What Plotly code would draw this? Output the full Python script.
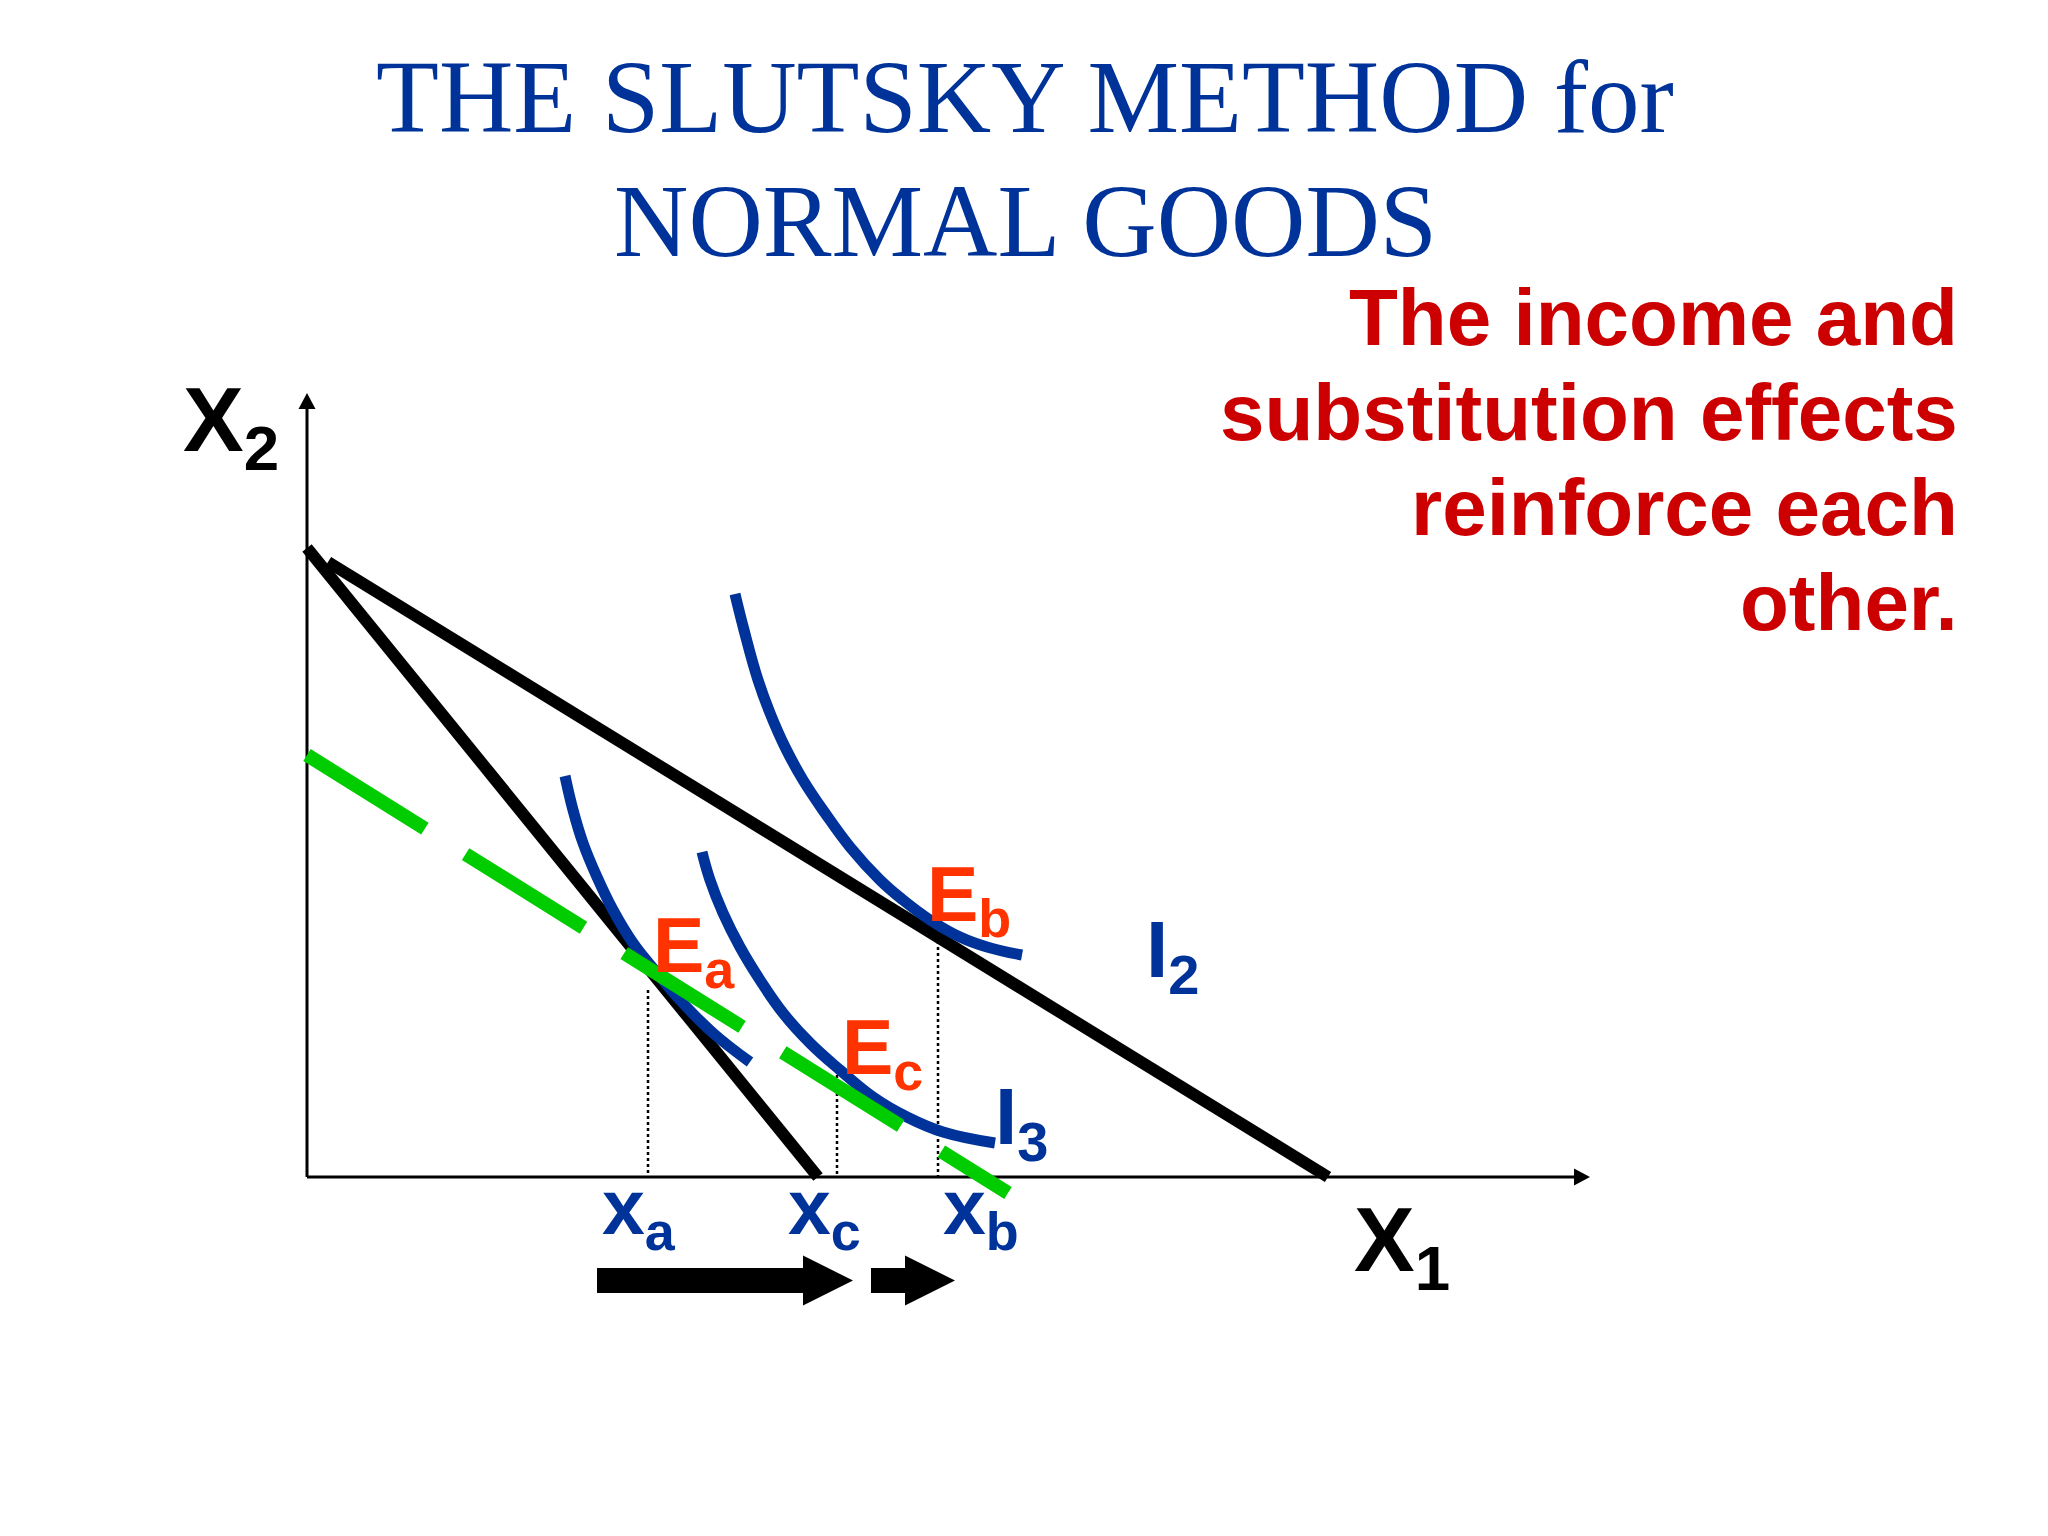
#%%
import numpy as np
import plotly.graph_objects as go

#%%
# diagram data, quantities of X1 (horizontal) and X2 (vertical)
x_axis_end = 12.83
y_axis_end = 7.84

# original budget line (high price of X1) and new budget line after price fall
budget_old_x = [0.0, 5.11]
budget_old_y = [6.29, 0.0]
budget_new_x = [0.21, 10.21]
budget_new_y = [6.15, 0.0]

# compensated (Slutsky) budget line, parallel to the new one
budget_comp_x = [0.0, 7.01]
budget_comp_y = [4.22, -0.16]

# indifference curves
i1_x = [2.58, 2.66, 2.76, 2.90, 3.06, 3.26, 3.50, 3.73, 4.06, 4.43]
i1_y = [4.01, 3.67, 3.34, 3.00, 2.67, 2.34, 2.04, 1.77, 1.44, 1.15]
i3_x = [3.95, 4.03, 4.16, 4.33, 4.53, 4.76, 5.03, 5.33, 5.66, 6.00, 6.36, 6.88]
i3_y = [3.25, 2.97, 2.64, 2.30, 1.97, 1.64, 1.34, 1.07, 0.80, 0.60, 0.45, 0.34]
i2_x = [4.28, 4.37, 4.51, 4.63, 4.78, 4.96, 5.18, 5.43, 5.73, 5.96, 6.23, 6.53, 6.80, 7.15]
i2_y = [5.83, 5.47, 4.97, 4.64, 4.30, 3.97, 3.64, 3.30, 2.97, 2.77, 2.57, 2.40, 2.30, 2.22]

# equilibria a, c, b
eq_names = ['a', 'c', 'b']
eq_x = [3.41, 5.30, 6.31]
eq_y = [1.87, 1.02, 2.54]

# substitution effect (xa -> xc) and income effect (xc -> xb) arrows
effect_arrow_start = [2.90, 5.64]
effect_arrow_end = [5.46, 6.48]
effect_arrow_level = -1.035

title_lines = ['THE SLUTSKY METHOD for', 'NORMAL GOODS']
note_lines = ['The income and', 'substitution effects', 'reinforce each', 'other.']

#%%
BLUE = '#003399'
RED = '#CC0000'
ORANGE = '#FF3300'
GREEN = '#00CC00'
SANS = 'Liberation Sans, Arial, sans-serif'
SERIF = 'Liberation Serif, Times New Roman, serif'


def arrow_outline(x0, y0, x1, y1, shaft_w, head_w, head_len):
    # filled arrow polygon from (x0, y0) to the tip (x1, y1)
    dx, dy = x1 - x0, y1 - y0
    length = np.hypot(dx, dy)
    ux, uy = dx / length, dy / length
    nx, ny = -uy, ux
    bx, by = x1 - ux * head_len, y1 - uy * head_len
    pts = [
        (x0 + nx * shaft_w / 2, y0 + ny * shaft_w / 2),
        (bx + nx * shaft_w / 2, by + ny * shaft_w / 2),
        (bx + nx * head_w / 2, by + ny * head_w / 2),
        (x1, y1),
        (bx - nx * head_w / 2, by - ny * head_w / 2),
        (bx - nx * shaft_w / 2, by - ny * shaft_w / 2),
        (x0 - nx * shaft_w / 2, y0 - ny * shaft_w / 2),
        (x0 + nx * shaft_w / 2, y0 + ny * shaft_w / 2),
    ]
    return [p[0] for p in pts], [p[1] for p in pts]


fig = go.Figure()

# axes
for x0, y0, x1, y1 in [(0, 0, x_axis_end, 0), (0, 0, 0, y_axis_end)]:
    ax_x, ax_y = arrow_outline(x0, y0, x1, y1, 0.03, 0.17, 0.16)
    fig.add_trace(go.Scatter(x=ax_x, y=ax_y, fill='toself', fillcolor='black', mode='lines', line=dict(width=0), hoverinfo='skip'))

# dotted drop lines from the equilibria
for x, y in zip(eq_x, eq_y):
    fig.add_trace(go.Scatter(x=[x, x], y=[y, 0], mode='lines', line=dict(color='black', width=2.5, dash='dot'), hoverinfo='skip'))

# budget lines
fig.add_trace(go.Scatter(x=budget_old_x, y=budget_old_y, mode='lines', line=dict(color='black', width=12)))
fig.add_trace(go.Scatter(x=budget_new_x, y=budget_new_y, mode='lines', line=dict(color='black', width=12)))

# indifference curves
for cx, cy in [(i1_x, i1_y), (i3_x, i3_y), (i2_x, i2_y)]:
    fig.add_trace(go.Scatter(x=cx, y=cy, mode='lines', line=dict(color=BLUE, width=11, shape='spline', smoothing=1.2)))

# compensated budget line
fig.add_trace(go.Scatter(x=budget_comp_x, y=budget_comp_y, mode='lines', line=dict(color=GREEN, width=14, dash='139px,48px')))

# effect arrows under the axis
for x0, x1 in zip(effect_arrow_start, effect_arrow_end):
    ar_x, ar_y = arrow_outline(x0, effect_arrow_level, x1, effect_arrow_level, 0.25, 0.50, 0.50)
    fig.add_trace(go.Scatter(x=ar_x, y=ar_y, fill='toself', fillcolor='black', mode='lines', line=dict(width=0), hoverinfo='skip'))

#%%
# text
e_label_pos = {'a': (3.44, 2.27), 'c': (5.33, 1.25), 'b': (6.18, 2.78)}
x_label_pos = {'a': 2.93, 'c': 4.79, 'b': 6.34}
for name in eq_names:
    ex, ey = e_label_pos[name]
    fig.add_annotation(x=ex, y=ey, text=f'E<sub>{name}</sub>', showarrow=False, xanchor='left', yanchor='middle',
                       font=dict(family=SANS, size=77, color=ORANGE, weight='bold'))
    fig.add_annotation(x=x_label_pos[name], y=-0.35, text=f'x<sub>{name}</sub>', showarrow=False, xanchor='left', yanchor='middle',
                       font=dict(family=SANS, size=77, color=BLUE, weight='bold'))

fig.add_annotation(x=8.37, y=2.22, text='I<sub>2</sub>', showarrow=False, xanchor='left', yanchor='middle',
                   font=dict(family=SANS, size=80, color=BLUE, weight='bold'))
fig.add_annotation(x=6.86, y=0.55, text='I<sub>3</sub>', showarrow=False, xanchor='left', yanchor='middle',
                   font=dict(family=SANS, size=80, color=BLUE, weight='bold'))
fig.add_annotation(x=10.45, y=-0.69, text='X<sub>1</sub>', showarrow=False, xanchor='left', yanchor='middle',
                   font=dict(family=SANS, size=91, color='black', weight='bold'))
fig.add_annotation(x=-1.26, y=7.51, text='X<sub>2</sub>', showarrow=False, xanchor='left', yanchor='middle',
                   font=dict(family=SANS, size=91, color='black', weight='bold'))

for i, line in enumerate(title_lines):
    fig.add_annotation(x=7.18, y=10.80 - i * 1.235, text=line, showarrow=False, xanchor='center', yanchor='middle',
                       font=dict(family=SERIF, size=103, color=BLUE))

for i, line in enumerate(note_lines):
    fig.add_annotation(x=16.53, y=8.595 - i * 0.95, text=line, showarrow=False, xanchor='right', yanchor='middle',
                       font=dict(family=SANS, size=80, color=RED, weight='bold'))

# ranges give 100 px per unit; shifted 8 px for the page margin
fig.update_layout(
    width=2048, height=1536, autosize=False,
    margin=dict(l=0, r=0, t=0, b=0),
    paper_bgcolor='white', plot_bgcolor='white',
    showlegend=False,
    xaxis=dict(range=[-2.99, 17.49], visible=False, fixedrange=True),
    yaxis=dict(range=[-3.67, 11.69], visible=False, fixedrange=True),
)
fig.write_html('out.html')
